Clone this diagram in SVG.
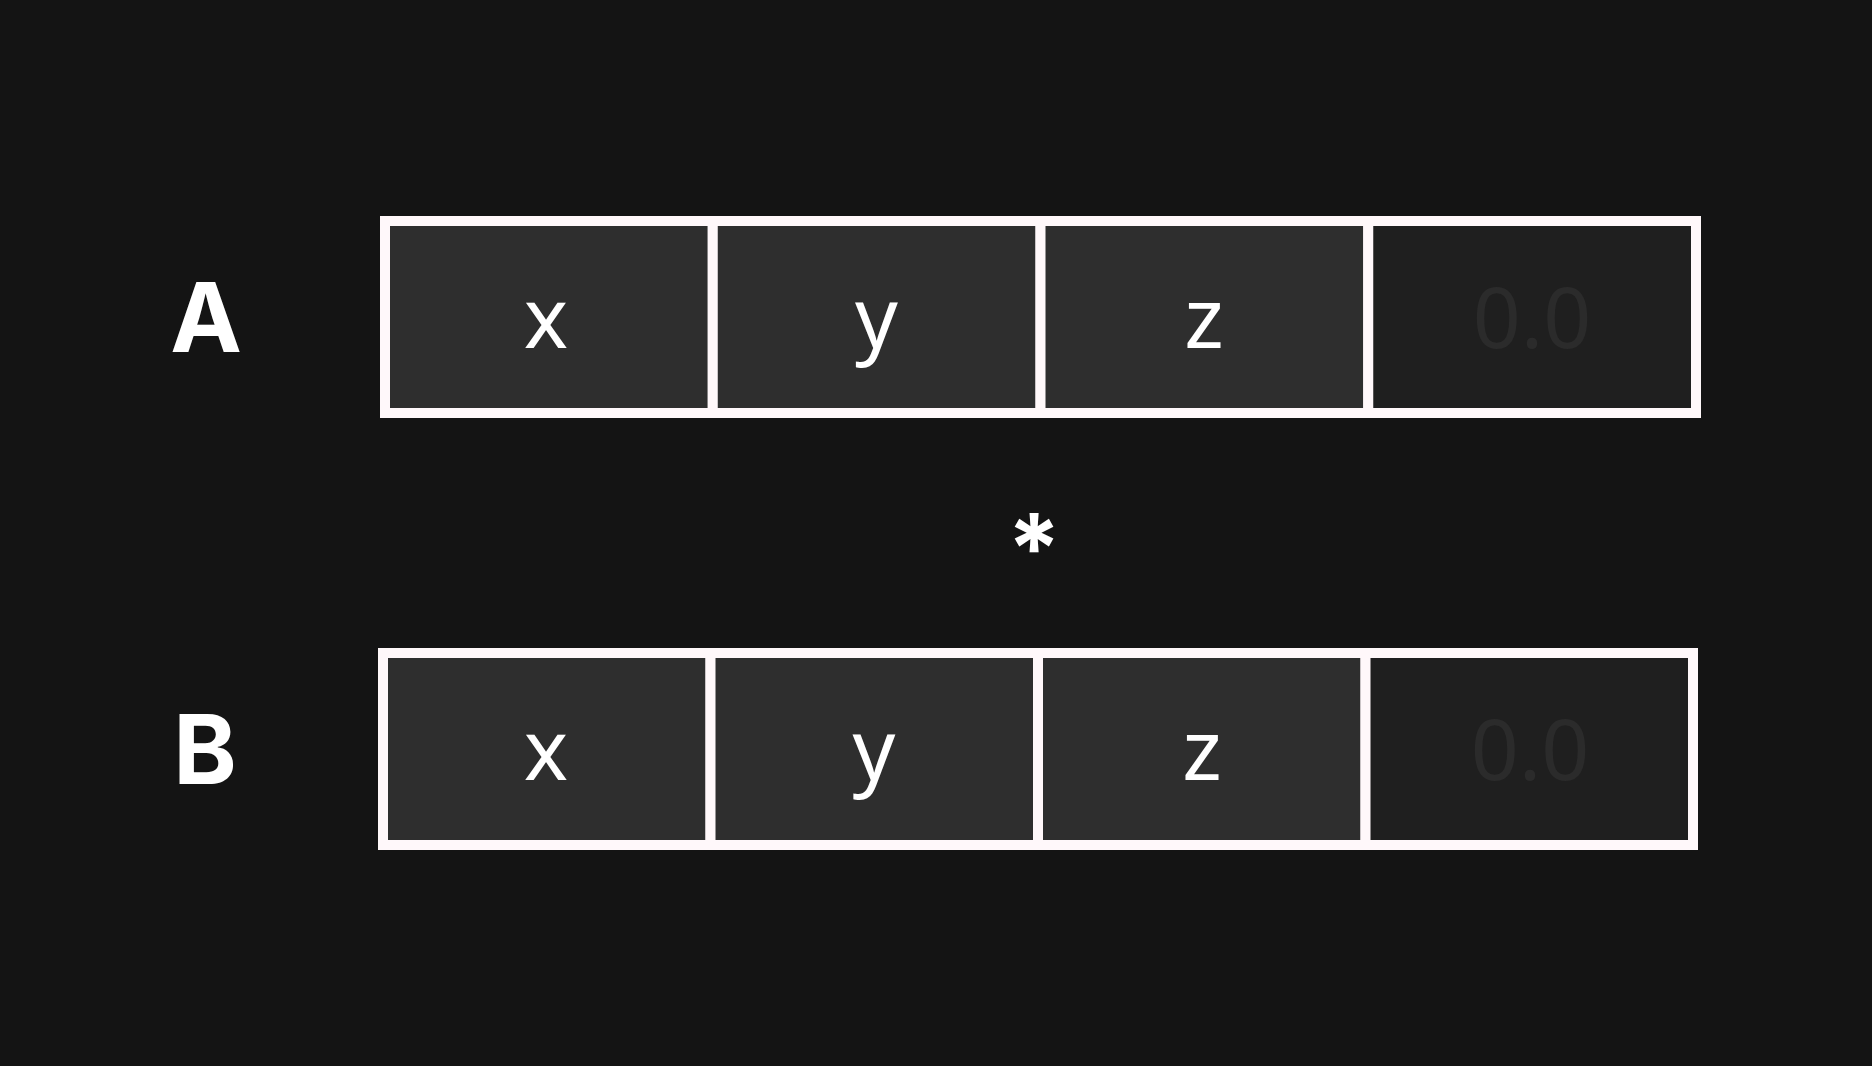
<svg xmlns="http://www.w3.org/2000/svg" width="1872" height="1066" viewBox="0 0 1872 1066">
<style>
.cell{fill:#2e2e2e;stroke:#fff8fa;stroke-width:10}
.pad{fill:#1f1f1f;stroke:#fff8fa;stroke-width:10}
.v{font-family:"Noto Sans","Open Sans",sans-serif;font-size:84px;fill:#ffffff;text-anchor:middle}
.p{font-family:"Noto Sans","Open Sans",sans-serif;font-size:84px;fill:#2b2b2b;text-anchor:middle}
.lbl{font-family:Inter,"Noto Sans",sans-serif;font-size:96px;font-weight:bold;fill:#ffffff;text-anchor:middle}
</style>
<rect width="1872" height="1066" fill="#141414"/>
<g id="labelA"><text class="lbl" x="206" y="352">A</text></g>
<g id="rowA">
<g id="A-x"><rect class="cell" x="385" y="221" width="327.75" height="192"/><text class="v" x="546" y="348">x</text></g>
<g id="A-y"><rect class="cell" x="712.75" y="221" width="327.75" height="192"/><text class="v" x="876.5" y="348">y</text></g>
<g id="A-z"><rect class="cell" x="1040.5" y="221" width="327.75" height="192"/><text class="v" x="1204" y="348">z</text></g>
<g id="A-w"><rect class="pad" x="1368.25" y="221" width="327.75" height="192"/><text class="p" x="1532" y="348">0.0</text></g>
</g>
<g id="op"><text class="lbl" x="1034" y="583">*</text></g>
<g id="labelB"><text class="lbl" x="205" y="784">B</text></g>
<g id="rowB">
<g id="B-x"><rect class="cell" x="383" y="653" width="327.5" height="192"/><text class="v" x="546" y="780">x</text></g>
<g id="B-y"><rect class="cell" x="710.5" y="653" width="327.5" height="192"/><text class="v" x="874" y="780">y</text></g>
<g id="B-z"><rect class="cell" x="1038" y="653" width="327.5" height="192"/><text class="v" x="1202" y="780">z</text></g>
<g id="B-w"><rect class="pad" x="1365.5" y="653" width="327.5" height="192"/><text class="p" x="1530" y="780">0.0</text></g>
</g>
<g id="connectors"/>
</svg>
